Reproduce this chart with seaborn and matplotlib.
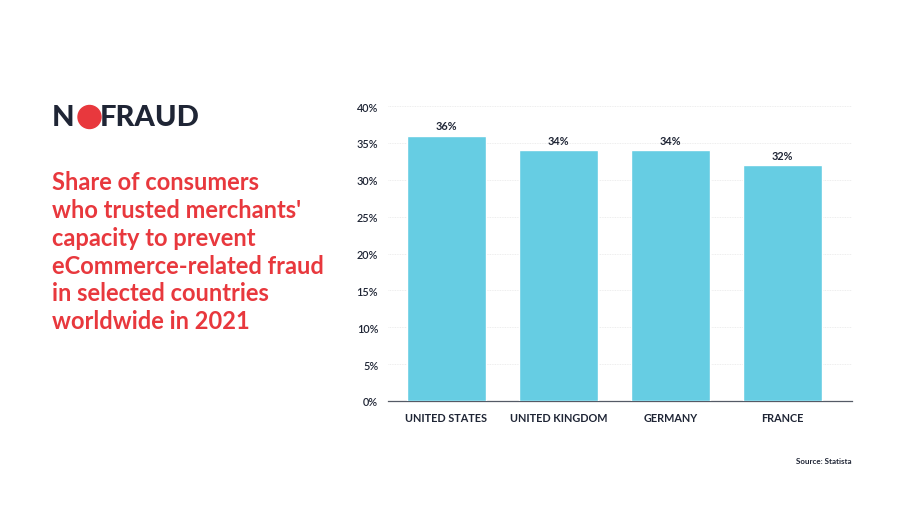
import matplotlib
matplotlib.use("Agg")
import matplotlib.pyplot as plt
import seaborn as sns
import pandas as pd
from matplotlib.patches import Ellipse

countries = ["UNITED STATES", "UNITED KINGDOM", "GERMANY", "FRANCE"]
shares = [36, 34, 34, 32]
yticks = [0, 5, 10, 15, 20, 25, 30, 35, 40]
title_lines = ["Share of consumers", "who trusted merchants'", "capacity to prevent",
               "eCommerce-related fraud", "in selected countries", "worldwide in 2021"]

sns.set_theme(style="white")
plt.rcParams['font.family'] = ['Lato', 'DejaVu Sans']

dark = "#1f2535"
red = "#e8383d"
bar_color = "#66cde3"

W, H = 900, 506
fig = plt.figure(figsize=(9, 5.06), dpi=100)
ax = fig.add_axes([388 / W, 1 - 402 / H, (852 - 388) / W, (402 - 107) / H])

df = pd.DataFrame({"country": countries, "share": shares})
sns.barplot(data=df, x="country", y="share", color=bar_color, width=0.7,
            saturation=1, ax=ax, zorder=3)
ax.set_ylim(0, 40)
ax.set_xlim(-0.52, 3.62)
ax.set_yticks(yticks)
ax.set_yticklabels([f"{v}%" for v in yticks], fontsize=7.8, color=dark, fontweight="semibold")
ax.set_xticks(range(len(countries)))
ax.set_xticklabels(countries, fontsize=7.8, color=dark, fontweight="bold")
ax.set_xlabel("")
ax.set_ylabel("")
ax.tick_params(axis="both", length=0, pad=7)
ax.tick_params(axis="x", pad=8)
for v in yticks[1:]:
    ax.axhline(v, color="#e8e8e8", lw=0.6, ls=(0, (1, 1)), zorder=1)
for s in ["top", "right", "left"]:
    ax.spines[s].set_visible(False)
ax.spines["bottom"].set_color("#555a66")
ax.spines["bottom"].set_linewidth(0.9)

for i, v in enumerate(shares):
    ax.text(i, v + 0.6, f"{v}%", ha="center", va="bottom", fontsize=7.8,
            color=dark, fontweight="bold")

# Logo
fig.text(52 / W, 1 - 118 / H, "N", fontsize=21, fontweight="black", color=dark,
         ha="left", va="center")
circ = Ellipse((89.5 / W, 1 - 118 / H), 23 / W, 23 / H, transform=fig.transFigure,
               color=red, zorder=5)
fig.patches.append(circ)
fig.text(100 / W, 1 - 118 / H, "FRAUD", fontsize=21, fontweight="black", color=dark,
         ha="left", va="center")

# Title
fig.text(52 / W, 1 - 171 / H, "\n".join(title_lines), fontsize=17, fontweight="bold",
         color=red, ha="left", va="top", linespacing=1.255)

fig.text(852 / W, 1 - 462 / H, "Source: Statista", fontsize=5.8, color=dark,
         fontweight="bold", ha="right", va="center")

fig.savefig("out.png", dpi=100, facecolor="white")
